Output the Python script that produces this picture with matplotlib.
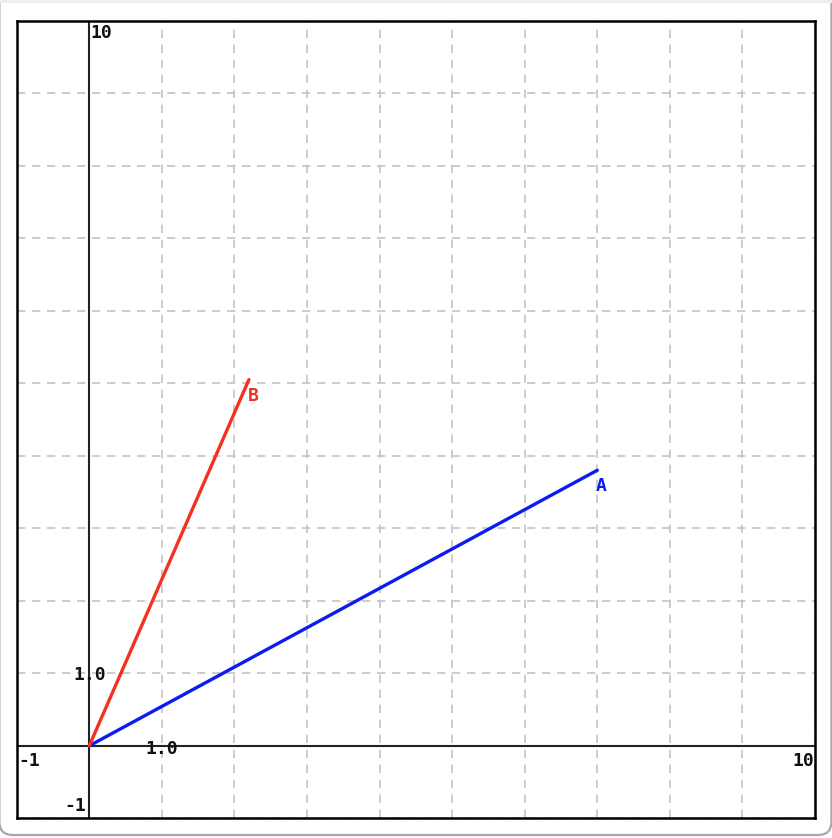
import matplotlib
matplotlib.use("Agg")
import matplotlib.pyplot as plt
from matplotlib.patches import FancyBboxPatch, Rectangle

# Data
vector_names = ["A", "B"]
vector_x = [7.0, 2.2]
vector_y = [3.8, 5.05]
vector_colors = ["#0a1cf0", "#f2321e"]
x_min, x_max = -1, 10
y_min, y_max = -1, 10
grid_ticks = list(range(-1, 11))

fig = plt.figure(figsize=(8.32, 8.38), dpi=100)
fig.patch.set_facecolor("white")

# window frame
frame = FancyBboxPatch((-0.6 / 832, 3.0 / 838), 832 / 832, 1.2,
                       boxstyle="round,pad=0,rounding_size=0.016",
                       transform=fig.transFigure, facecolor="white",
                       edgecolor="#a8a8a8", linewidth=1.6, zorder=-10)
fig.patches.append(frame)
topbar = Rectangle((0, 835 / 838), 1, 3 / 838, transform=fig.transFigure,
                   facecolor="#eeeeee", edgecolor="none", zorder=-9)
fig.patches.append(topbar)

ax = fig.add_axes([16.7 / 832, 19.7 / 838, (815 - 16.7) / 832, (818.3 - 20.7) / 838])
ax.set_zorder(5)
ax.set_xlim(x_min, x_max)
ax.set_ylim(-0.986, y_max)
ax.set_xticks(grid_ticks)
ax.set_yticks(grid_ticks)
ax.tick_params(length=0, labelbottom=False, labelleft=False)
ax.grid(True, color="#c4c4c4", linestyle=(0, (5, 4)), linewidth=1.2)
for s in ax.spines.values():
    s.set_color("black")
    s.set_linewidth(1.8)

ax.axhline(0, color="#222222", linewidth=1.5, zorder=2)
ax.axvline(0, color="#222222", linewidth=1.5, zorder=2)

for name, x, y, c in zip(vector_names, vector_x, vector_y, vector_colors):
    ax.plot([0, x], [0, y], color=c, linewidth=2.4, solid_capstyle="round", zorder=3)
    ax.annotate(name, (x, y), xytext=(-1, -5), textcoords="offset points",
                ha="left", va="top", color=c, fontsize=13,
                family="DejaVu Sans Mono", fontweight="bold", zorder=4)

tk = dict(family="DejaVu Sans Mono", fontweight="bold", fontsize=13, color="#111111", zorder=4)
ax.text(0.01, 9.95, "10", ha="left", va="top", **tk)
ax.text(x_max - 0.01, -0.08, "10", ha="right", va="top", **tk)
ax.text(-0.98, -0.08, "-1", ha="left", va="top", **tk)
ax.text(-0.04, -0.95, "-1", ha="right", va="bottom", **tk)
ax.text(1, -0.04, "1.0", ha="center", va="center", **tk)
ax.text(0, 0.97, "1.0", ha="center", va="center", **tk)

fig.savefig("out.png", dpi=100, facecolor="white")
